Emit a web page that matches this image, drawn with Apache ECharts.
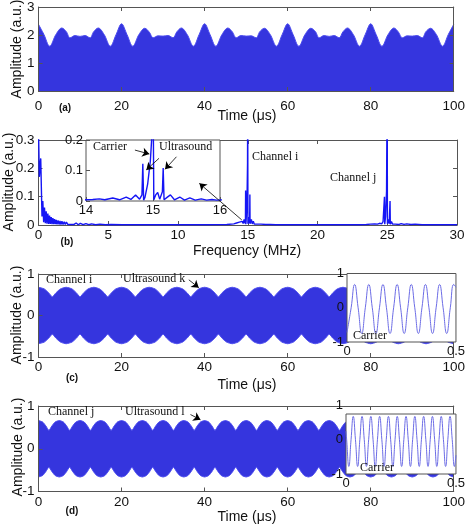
<!DOCTYPE html>
<html><head><meta charset="utf-8">
<script src="https://cdn.jsdelivr.net/npm/echarts@6/dist/echarts.min.js"></script>
<style>html,body{margin:0;padding:0;background:#fff}#c{width:468px;height:525px}</style>
</head><body><div id="c"></div>
<script>
// ---------- (a) combined signal: upper envelope (fill to 0) ----------
const aTime = [
 0,1.3,2.7,4.2,5.6,6.7,7.6,8.8,10,11.2,12.4,13.3,14.4,15.8,17.3,18.7,
 20,21.3,22.7,24.2,25.6,26.7,27.6,28.8,30,31.2,32.4,33.3,34.4,35.8,37.3,38.7,
 40,41.3,42.7,44.2,45.6,46.7,47.6,48.8,50,51.2,52.4,53.3,54.4,55.8,57.3,58.7,
 60,61.3,62.7,64.2,65.6,66.7,67.6,68.8,70,71.2,72.4,73.3,74.4,75.8,77.3,78.7,
 80,81.3,82.7,84.2,85.6,86.7,87.6,88.8,90,91.2,92.4,93.3,94.4,95.8,97.3,98.7,
 100];
const aEnvelope = [
 2.38,2.02,1.6,2.02,2.25,2.12,1.9,1.98,1.95,1.98,1.9,2.12,2.25,2.02,1.6,2.02,
 2.4,2.02,1.6,2.02,2.24,2.1,1.9,1.97,1.96,1.98,1.9,2.11,2.25,2.02,1.6,2.02,
 2.4,2.02,1.6,2.02,2.25,2.11,1.9,1.98,1.96,1.97,1.9,2.12,2.24,2.02,1.6,2.02,
 2.4,2.02,1.6,2.02,2.24,2.12,1.9,1.98,1.95,1.98,1.9,2.11,2.25,2.02,1.6,2.02,
 2.4,2.02,1.6,2.02,2.25,2.1,1.9,1.97,1.96,1.98,1.9,2.12,2.24,2.02,1.6,2.02,
 2.38];

// ---------- (b) spectrum ----------
const specFreq = [
 0,0.06,0.16,0.25,0.31,0.37,0.43,0.49,0.55,0.61,0.67,0.73,0.79,0.85,0.91,0.97,1.03,1.09,1.15,1.21,1.27,1.33,1.4,1.47,1.54,1.61,1.68,1.76,1.84,1.92,2.0,2.1,2.2,2.3,2.4,2.55,2.7,2.85,3.0,3.2,3.4,3.6,3.8,4.1,4.4,4.8,5.2,6,8,10,12,13.5,
 14.0,14.1,14.2,14.28,14.4,14.5,14.6,14.67,14.74,14.8,14.835,14.848,14.86,14.88,14.92,14.96,14.985,14.997,15.006,15.012,15.04,15.07,15.1,15.14,15.152,15.165,15.21,15.26,15.32,15.4,15.47,15.55,15.63,15.72,15.8,15.88,15.95,16.05,16.3,16.6,17,
 20,23,23.5,23.8,24.1,24.3,24.45,24.6,24.7,24.77,24.8,24.82,24.88,24.95,24.995,25.005,25.012,25.08,25.14,25.2,25.22,25.3,25.38,25.48,25.58,25.7,25.85,26,26.2,26.4,26.7,27,27.5,30];
const specAmp = [
 0.34,0.17,0.235,0.03,0.085,0.01,0.062,0.006,0.048,0.005,0.04,0.004,0.033,0.004,0.028,0.003,0.024,0.003,0.021,0.003,0.018,0.002,0.016,0.002,0.014,0.002,0.013,0.002,0.011,0.002,0.01,0.002,0.009,0.002,0.008,0.002,0.007,0.001,0.006,0.001,0.005,0.001,0.004,0.001,0.003,0.001,0.002,0.001,0.001,0.001,0.001,0.002,
 0.004,0.005,0.007,0.004,0.01,0.004,0.013,0.005,0.02,0.006,0.02,0.122,0.003,0.012,0.055,0.13,0.22,0.5,0.5,0.004,0.02,0.028,0.006,0.03,0.108,0.004,0.012,0.02,0.004,0.013,0.003,0.01,0.003,0.007,0.003,0.005,0.003,0.004,0.002,0.002,0.001,
 0.001,0.001,0.002,0.003,0.004,0.003,0.006,0.004,0.012,0.005,0.1,0.003,0.03,0.12,0.5,0.5,0.004,0.02,0.005,0.085,0.003,0.012,0.003,0.008,0.003,0.006,0.002,0.005,0.002,0.004,0.002,0.003,0.001,0.001];

// ---------- (c) channel i envelope ----------
const cTime = [
 0,1.4,2.43,3.33,4.23,5.27, 6.67,8.07,9.1,10,10.9,11.94, 13.33,14.73,15.76,16.67,17.57,18.6,
 20,21.4,22.43,23.33,24.23,25.27, 26.67,28.07,29.1,30,30.9,31.94, 33.33,34.73,35.76,36.67,37.57,38.6,
 40,41.4,42.43,43.33,44.23,45.27, 46.67,48.07,49.1,50,50.9,51.94, 53.33,54.73,55.76,56.67,57.57,58.6,
 60,61.4,62.43,63.33,64.23,65.27, 66.67,68.07,69.1,70,70.9,71.94, 73.33,74.73,75.76,76.67,77.57,78.6,
 80,81.4,82.43,83.33,84.23,85.27, 86.67,88.07,89.1,90,90.9,91.94, 93.33,94.73,95.76,96.67,97.57,98.6,
 100];
const cUpper = [
 0.68,0.64,0.55,0.45,0.55,0.64, 0.68,0.64,0.55,0.45,0.55,0.64, 0.68,0.64,0.55,0.45,0.55,0.64,
 0.68,0.64,0.55,0.45,0.55,0.64, 0.68,0.64,0.55,0.45,0.55,0.64, 0.68,0.64,0.55,0.45,0.55,0.64,
 0.68,0.64,0.55,0.45,0.55,0.64, 0.68,0.64,0.55,0.45,0.55,0.64, 0.68,0.64,0.55,0.45,0.55,0.64,
 0.68,0.64,0.55,0.45,0.55,0.64, 0.68,0.64,0.55,0.45,0.55,0.64, 0.68,0.64,0.55,0.45,0.55,0.64,
 0.68,0.64,0.55,0.45,0.55,0.64, 0.68,0.64,0.55,0.45,0.55,0.64, 0.68,0.64,0.55,0.45,0.55,0.64,
 0.68];
const cLower = [
 -0.68,-0.64,-0.55,-0.45,-0.55,-0.64, -0.68,-0.64,-0.55,-0.45,-0.55,-0.64, -0.68,-0.64,-0.55,-0.45,-0.55,-0.64,
 -0.68,-0.64,-0.55,-0.45,-0.55,-0.64, -0.68,-0.64,-0.55,-0.45,-0.55,-0.64, -0.68,-0.64,-0.55,-0.45,-0.55,-0.64,
 -0.68,-0.64,-0.55,-0.45,-0.55,-0.64, -0.68,-0.64,-0.55,-0.45,-0.55,-0.64, -0.68,-0.64,-0.55,-0.45,-0.55,-0.64,
 -0.68,-0.64,-0.55,-0.45,-0.55,-0.64, -0.68,-0.64,-0.55,-0.45,-0.55,-0.64, -0.68,-0.64,-0.55,-0.45,-0.55,-0.64,
 -0.68,-0.64,-0.55,-0.45,-0.55,-0.64, -0.68,-0.64,-0.55,-0.45,-0.55,-0.64, -0.68,-0.64,-0.55,-0.45,-0.55,-0.64,
 -0.68];

// ---------- (d) channel j envelope ----------
const dTime = [
 0,1,1.8,2.5,3.2,4, 5,6,6.8,7.5,8.2,9, 10,11,11.8,12.5,13.2,14, 15,16,16.8,17.5,18.2,19,
 20,21,21.8,22.5,23.2,24, 25,26,26.8,27.5,28.2,29, 30,31,31.8,32.5,33.2,34, 35,36,36.8,37.5,38.2,39,
 40,41,41.8,42.5,43.2,44, 45,46,46.8,47.5,48.2,49, 50,51,51.8,52.5,53.2,54, 55,56,56.8,57.5,58.2,59,
 60,61,61.8,62.5,63.2,64, 65,66,66.8,67.5,68.2,69, 70,71,71.8,72.5,73.2,74, 75,76,76.8,77.5,78.2,79,
 80,81,81.8,82.5,83.2,84, 85,86,86.8,87.5,88.2,89, 90,91,91.8,92.5,93.2,94, 95,96,96.8,97.5,98.2,99,
 100];
const dUpper = [
 0.66,0.625,0.53,0.43,0.53,0.625, 0.66,0.625,0.53,0.43,0.53,0.625, 0.66,0.625,0.53,0.43,0.53,0.625, 0.66,0.625,0.53,0.43,0.53,0.625,
 0.66,0.625,0.53,0.43,0.53,0.625, 0.66,0.625,0.53,0.43,0.53,0.625, 0.66,0.625,0.53,0.43,0.53,0.625, 0.66,0.625,0.53,0.43,0.53,0.625,
 0.66,0.625,0.53,0.43,0.53,0.625, 0.66,0.625,0.53,0.43,0.53,0.625, 0.66,0.625,0.53,0.43,0.53,0.625, 0.66,0.625,0.53,0.43,0.53,0.625,
 0.66,0.625,0.53,0.43,0.53,0.625, 0.66,0.625,0.53,0.43,0.53,0.625, 0.66,0.625,0.53,0.43,0.53,0.625, 0.66,0.625,0.53,0.43,0.53,0.625,
 0.66,0.625,0.53,0.43,0.53,0.625, 0.66,0.625,0.53,0.43,0.53,0.625, 0.66,0.625,0.53,0.43,0.53,0.625, 0.66,0.625,0.53,0.43,0.53,0.625,
 0.66];
const dLower = [
 -0.66,-0.625,-0.53,-0.43,-0.53,-0.625, -0.66,-0.625,-0.53,-0.43,-0.53,-0.625, -0.66,-0.625,-0.53,-0.43,-0.53,-0.625, -0.66,-0.625,-0.53,-0.43,-0.53,-0.625,
 -0.66,-0.625,-0.53,-0.43,-0.53,-0.625, -0.66,-0.625,-0.53,-0.43,-0.53,-0.625, -0.66,-0.625,-0.53,-0.43,-0.53,-0.625, -0.66,-0.625,-0.53,-0.43,-0.53,-0.625,
 -0.66,-0.625,-0.53,-0.43,-0.53,-0.625, -0.66,-0.625,-0.53,-0.43,-0.53,-0.625, -0.66,-0.625,-0.53,-0.43,-0.53,-0.625, -0.66,-0.625,-0.53,-0.43,-0.53,-0.625,
 -0.66,-0.625,-0.53,-0.43,-0.53,-0.625, -0.66,-0.625,-0.53,-0.43,-0.53,-0.625, -0.66,-0.625,-0.53,-0.43,-0.53,-0.625, -0.66,-0.625,-0.53,-0.43,-0.53,-0.625,
 -0.66,-0.625,-0.53,-0.43,-0.53,-0.625, -0.66,-0.625,-0.53,-0.43,-0.53,-0.625, -0.66,-0.625,-0.53,-0.43,-0.53,-0.625, -0.66,-0.625,-0.53,-0.43,-0.53,-0.625,
 -0.66];

// ---------- carrier insets ----------
const cCarrierT = [0,0.019,0.035,0.051,0.0675,0.084,0.100,0.116,0.1325,0.149,0.165,0.181,0.1975,0.214,0.230,0.246,0.2625,0.279,0.295,0.311,0.3275,0.344,0.360,0.376,0.3925,0.409,0.425,0.441,0.4575,0.474,0.490,0.5];
const cCarrierV = [-0.72,0,0.68,0,-0.75,0,0.68,0,-0.75,0,0.68,0,-0.75,0,0.68,0,-0.75,0,0.68,0,-0.75,0,0.68,0,-0.75,0,0.68,0,-0.75,0,0.68,0.6];
const dCarrierT = [0,0.003,0.013,0.023,0.033,0.043,0.053,0.063,0.073,0.083,0.093,0.103,0.113,0.123,0.133,0.143,0.153,0.163,0.173,0.183,0.193,0.203,0.213,0.223,0.233,0.243,0.253,0.263,0.273,0.283,0.293,0.303,0.313,0.323,0.333,0.343,0.353,0.363,0.373,0.383,0.393,0.403,0.413,0.423,0.433,0.443,0.453,0.463,0.473,0.483,0.493,0.5];
const dCarrierV = [0.25,0,-0.78,0,0.68,0,-0.78,0,0.68,0,-0.78,0,0.68,0,-0.78,0,0.68,0,-0.78,0,0.68,0,-0.78,0,0.68,0,-0.78,0,0.68,0,-0.78,0,0.68,0,-0.78,0,0.68,0,-0.78,0,0.68,0,-0.78,0,0.68,0,-0.78,0,0.68,0,-0.78,-0.45];

// ---------- drawing ----------
const SANS = '"Liberation Sans", Arial, sans-serif';
const SERIF = '"Liberation Serif", "Times New Roman", serif';
const AX = '#555', TXT = '#111';
const FILL = '#3535de', EDGE = '#4a4aee', SPEC = '#1515f5', CARR = '#6c6ce6';
const pairs = (xs, ys) => xs.map((x, i) => [x, ys[i]]);

const mains = [
  {top: 7, height: 84, xr: [0, 100, 20], yr: [0, 3, 1], xm: 8},
  {top: 140, height: 85, xr: [0, 30, 5], yr: [0, 0.3, 0.1], xm: 3.5},
  {top: 274, height: 83, xr: [0, 100, 20], yr: [-1, 1, 1], xm: 3.5},
  {top: 406, height: 85.5, xr: [0, 100, 20], yr: [-1, 1, 1], xm: 3.5}
];
const insets = [
  {left: 86, top: 140, width: 134, height: 61, bg: '#fff', xr: [14, 16, 1], yr: [0, 0.2, 0.1], ticks: true},
  {left: 347, top: 273.5, width: 110, height: 68.5, bg: '#fff', xr: [0, 0.5, 0.5], yr: [-1, 1, 1], ticks: false},
  {left: 346, top: 414, width: 111, height: 60, bg: '#fff', xr: [0, 0.5, 0.5], yr: [-1, 0.75, 1], ticks: false}
];

const grid = [], xAxis = [], yAxis = [];
function ax(g, pos, r, showLabel, margin, z, tick, fs, line, fmt) {
  const o = {gridIndex: g, type: 'value', position: pos, min: r[0], max: r[1], interval: r[2], z: z,
    axisLine: {show: line, onZero: false, lineStyle: {color: AX, width: 1}}, splitLine: {show: false},
    axisTick: {show: tick, inside: true, length: 4, lineStyle: {color: AX, width: 1}},
    axisLabel: {show: showLabel, margin: margin, fontSize: fs, color: TXT, fontFamily: SANS}};
  if (fmt) o.axisLabel.formatter = fmt;
  return o;
}
mains.forEach((m, i) => {
  grid.push({left: 38.5, right: 11, top: m.top, height: m.height, show: false, z: 0});
  xAxis.push(ax(i, 'bottom', m.xr, true, m.xm, 3, true, 13.5, true));
  xAxis.push(ax(i, 'top', m.xr, false, 0, 3, true, 13.5, true));
  yAxis.push(ax(i, 'left', m.yr, true, 4, 3, true, 13.5, true));
  yAxis.push(ax(i, 'right', m.yr, false, 0, 3, true, 13.5, true));
});
insets.forEach((s, k) => {
  const g = 4 + k;
  grid.push({left: s.left, top: s.top, width: s.width, height: s.height, show: true, backgroundColor: s.bg, borderColor: AX, borderWidth: 1, z: 10});
  xAxis.push(ax(g, 'bottom', s.xr, true, 2.5, 11, s.ticks, 13, false));
  yAxis.push(ax(g, 'left', s.yr, true, 3, 11, s.ticks, 13, false,
    k === 2 ? (v => (v === -1 || v === 0) ? String(v) : '') : null));
});

function arrows(list) {
  return {silent: true, z: 30, symbol: ['none', 'arrow'], symbolSize: 7, animation: false,
    label: {show: false}, emphasis: {disabled: true},
    lineStyle: {color: '#000', width: 0.8, type: 'solid'},
    data: list.map(a => [{coord: a[0]}, {coord: a[1]}])};
}
// band between lower and upper envelope: fill from axis bottom up to the upper
// envelope, then white from axis bottom up to the lower envelope.
function envBand(xi, times, lo, hi, ml) {
  const top = {type: 'line', xAxisIndex: xi, yAxisIndex: xi, data: pairs(times, hi),
    symbol: 'none', smooth: 0.2, z: 2, lineStyle: {color: EDGE, width: 1},
    areaStyle: {color: FILL, opacity: 1, origin: 'start'}};
  const bottom = {type: 'line', xAxisIndex: xi, yAxisIndex: xi, data: pairs(times, lo),
    symbol: 'none', smooth: 0.2, z: 2, lineStyle: {color: EDGE, width: 1},
    areaStyle: {color: '#fff', opacity: 1, origin: 'start'}};
  if (ml) top.markLine = ml;
  return [top, bottom];
}

const series = [
  {type: 'line', xAxisIndex: 0, yAxisIndex: 0, data: pairs(aTime, aEnvelope), symbol: 'none', smooth: 0.35, z: 2,
    lineStyle: {color: EDGE, width: 1}, areaStyle: {color: FILL, opacity: 1}},
  // main spectrum sits above the inset background so its arrow reaches into the inset
  {type: 'line', xAxisIndex: 2, yAxisIndex: 2, data: pairs(specFreq, specAmp), symbol: 'none', z: 11,
    lineStyle: {color: SPEC, width: 1.4},
    markLine: arrows([[[14.57, 0.018], [11.53, 0.147]]])},
  ...envBand(4, cTime, cLower, cUpper, arrows([[[36.2, 0.86], [38.6, 0.67]]])),
  ...envBand(6, dTime, dLower, dUpper, arrows([[[36.6, 0.8], [39.0, 0.68]]])),
  {type: 'line', xAxisIndex: 8, yAxisIndex: 8, data: pairs(specFreq, specAmp), symbol: 'none', z: 12,
    lineStyle: {color: SPEC, width: 1.4},
    markLine: arrows([
      [[14.73, 0.167], [14.945, 0.154]],
      [[15.09, 0.14], [14.9, 0.102]],
      [[15.35, 0.145], [15.18, 0.104]]
    ])},
  {type: 'line', xAxisIndex: 9, yAxisIndex: 9, data: pairs(cCarrierT, cCarrierV), symbol: 'none', smooth: 0.5, z: 12,
    lineStyle: {color: CARR, width: 1}},
  {type: 'line', xAxisIndex: 10, yAxisIndex: 10, data: pairs(dCarrierT, dCarrierV), symbol: 'none', smooth: 0.5, z: 12,
    lineStyle: {color: CARR, width: 1}}
];

const chart = echarts.init(document.getElementById('c'), null, {renderer: 'canvas', width: 468, height: 525});
chart.setOption({animation: false, backgroundColor: '#fff', grid, xAxis, yAxis, series});

function txt(x, y, s, o) {
  return Object.assign({type: 'text', x: x, y: y, z: 100, silent: true,
    style: Object.assign({text: s, fontFamily: SANS, fontSize: 13.5, fill: TXT, align: 'center', verticalAlign: 'middle'}, o || {})});
}
const serif = {fontFamily: SERIF, fontSize: 12, align: 'left'};
const bold = {fontWeight: 'bold', fontSize: 10};
const p1 = chart.convertToPixel({xAxisIndex: 10, yAxisIndex: 10}, [0, 1]);
const graphic = [
  txt(65, 108, '(a)', bold), txt(67, 242, '(b)', bold), txt(72, 378, '(c)', bold), txt(72, 511.5, '(d)', bold),
  txt(247, 116.5, 'Time (\u03bcs)', {fontSize: 14}),
  txt(247, 251, 'Frequency (MHz)', {fontSize: 14}),
  txt(247, 385, 'Time (\u03bcs)', {fontSize: 14}),
  txt(247, 517, 'Time (\u03bcs)', {fontSize: 14}),
  Object.assign(txt(17, 49, 'Amplitude (a.u.)', {fontSize: 14}), {rotation: Math.PI / 2}),
  Object.assign(txt(9, 182, 'Amplitude (a.u.)', {fontSize: 14}), {rotation: Math.PI / 2}),
  Object.assign(txt(17, 315, 'Amplitude (a.u.)', {fontSize: 14}), {rotation: Math.PI / 2}),
  Object.assign(txt(18, 447, 'Amplitude (a.u.)', {fontSize: 14}), {rotation: Math.PI / 2}),
  txt(93, 147, 'Carrier', serif), txt(159, 147, 'Ultrasound', serif),
  txt(252, 157, 'Channel i', serif), txt(330, 178, 'Channel j', serif),
  txt(46, 280, 'Channel i', serif), txt(123, 279, 'Ultrasound k', serif),
  txt(48, 411.5, 'Channel j', serif), txt(125, 412, 'Ultrasound l', serif),
  txt(353, 336, 'Carrier', serif), txt(360, 468, 'Carrier', serif),
  txt(p1[0] - 3, p1[1], '1', {fontSize: 13, align: 'right'})
];
chart.setOption({graphic: graphic});
</script></body></html>
